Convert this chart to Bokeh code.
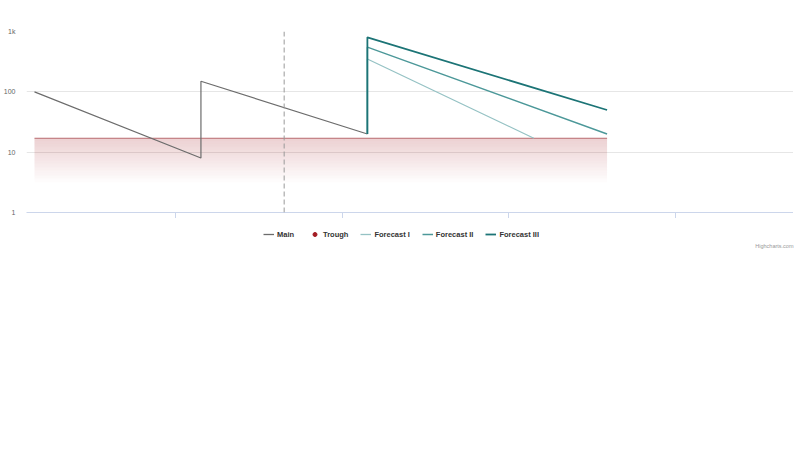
import numpy as np
from bokeh.plotting import figure
from bokeh.layouts import column
from bokeh.models import (Range1d, FixedTicker, CustomJSTickFormatter, Span, Legend,
                          LegendItem, Label)
from bokeh.embed import file_html
from bokeh.resources import INLINE

# ---- data ----
main_x = [0, 1, 1, 2]
main_y = [100, 8, 150, 20]
f1_x = [2, 2, 3.0]
f1_y = [20, 350, 17]
f2_x = [2, 2, 3.44]
f2_y = [20, 550, 20]
f3_x = [2, 2, 3.44]
f3_y = [20, 800, 50]
trough_value = 17
trough_x = [0, 3.44]
marker_x = 1.5
y_ticks = [1, 10, 100, 1000]
x_ticks = [0.85, 1.85, 2.85, 3.85]
series_names = ["Main", "Trough", "Forecast I", "Forecast II", "Forecast III"]

FONT = "Liberation Sans"
RED = "#a31c23"
C_MAIN = "#6c6c6c"
C_F1 = "#95c2c4"
C_F2 = "#4c9899"
C_F3 = "#1c7476"

p = figure(frame_width=767, frame_height=181, output_backend="svg", toolbar_location=None,
           y_axis_type="log", x_range=Range1d(-0.048, 4.56), y_range=Range1d(1, 1000),
           min_border_left=19, min_border_right=0, min_border_top=31, min_border_bottom=0)
p.outline_line_color = None

# y axis
p.yaxis.ticker = FixedTicker(ticks=y_ticks)
p.yaxis.formatter = CustomJSTickFormatter(code="return tick >= 1000 ? (tick/1000) + 'k' : String(tick);")
p.yaxis.axis_line_color = None
p.yaxis.major_tick_line_color = None
p.yaxis.minor_tick_line_color = None
p.yaxis.major_label_text_font = FONT
p.yaxis.major_label_text_font_size = "7px"
p.yaxis.major_label_text_color = "#666666"
p.yaxis.major_label_standoff = 5
p.ygrid.ticker = FixedTicker(ticks=y_ticks)
p.ygrid.grid_line_color = "#e6e6e6"
p.ygrid.minor_grid_line_color = None

# x axis
p.xaxis.ticker = FixedTicker(ticks=x_ticks)
p.xaxis.major_label_text_alpha = 0
p.xaxis.axis_line_color = "#ccd6eb"
p.xaxis.major_tick_line_color = "#ccd6eb"
p.xaxis.major_tick_in = 0
p.xaxis.major_tick_out = 6
p.xaxis.minor_tick_line_color = None
p.xaxis.major_label_text_font_size = "4px"
p.xaxis.major_label_standoff = 0
p.xgrid.grid_line_color = None

# trough gradient band
n = 30
fade_decades = 0.75
tops = trough_value * 10 ** (-fade_decades * np.arange(n) / n)
bots = trough_value * 10 ** (-fade_decades * (np.arange(n) + 1) / n)
alphas = 0.21 * (1 - (np.arange(n) + 0.5) / n)
p.quad(left=[trough_x[0]] * n, right=[trough_x[1]] * n, top=tops, bottom=bots,
       fill_color=RED, fill_alpha=alphas, line_color=None)
p.line(trough_x, [trough_value] * 2, line_color="#a0383d", line_alpha=0.7, line_width=1.2)

p.add_layout(Span(location=marker_x, dimension="height", line_color="#999999",
                  line_dash="5 3", line_width=1))

p.line(main_x, main_y, line_color=C_MAIN, line_width=1.2)
p.line(f1_x, f1_y, line_color=C_F1, line_width=1.2)
p.line(f2_x, f2_y, line_color=C_F2, line_width=1.4)
p.line(f3_x, f3_y, line_color=C_F3, line_width=1.8)

# ---- legend strip ----
q = figure(width=p.frame_width + 27, height=34, output_backend="svg", toolbar_location=None,
           x_range=Range1d(0, 1), y_range=Range1d(0, 1),
           min_border_left=0, min_border_right=0, min_border_top=0, min_border_bottom=0)
q.axis.visible = False
q.grid.visible = False
q.outline_line_color = None
nan = [float("nan")]
lr = [
    q.line(nan, nan, line_color=C_MAIN, line_width=1.3),
    q.scatter(nan, nan, size=8, fill_color=RED, line_color=RED),
    q.line(nan, nan, line_color=C_F1, line_width=1.3),
    q.line(nan, nan, line_color=C_F2, line_width=1.5),
    q.line(nan, nan, line_color=C_F3, line_width=1.8),
]
legend = Legend(items=[LegendItem(label=nm, renderers=[r]) for nm, r in zip(series_names, lr)],
                orientation="horizontal", location=(237, 13))
legend.label_text_font = FONT
legend.label_text_font_style = "bold"
legend.label_text_font_size = "7.5px"
legend.label_text_color = "#333333"
legend.glyph_width = 11
legend.glyph_height = 10
legend.label_standoff = 3
legend.spacing = 12
legend.padding = 2
legend.margin = 0
legend.border_line_color = None
legend.background_fill_alpha = 0
q.add_layout(legend)
q.add_layout(Label(x=1, y=0, x_offset=-1, y_offset=4, text="Highcharts.com", text_align="right",
                   text_baseline="bottom", text_font=FONT, text_font_size="5.5px",
                   text_color="#999999"))

layout = column(p, q, spacing=0)
open("out.html", "w").write(file_html(layout, INLINE))
